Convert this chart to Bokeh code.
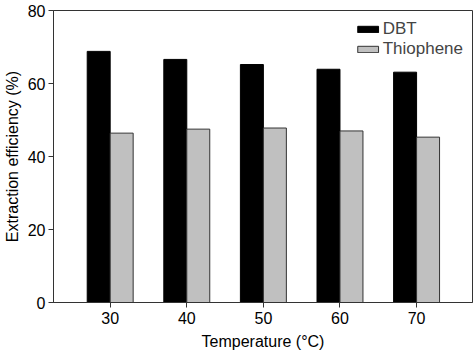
from bokeh.plotting import figure
from bokeh.models import FixedTicker, Range1d, ColumnDataSource, Legend, LegendItem
from bokeh.embed import file_html
from bokeh.resources import INLINE

temperature = [30, 40, 50, 60, 70]
dbt = [68.8, 66.6, 65.2, 63.9, 63.1]
thiophene = [46.4, 47.5, 47.8, 47.0, 45.3]
x_ticks = [30, 40, 50, 60, 70]
y_ticks = [0, 20, 40, 60, 80]

bar_w = 3.0
src = ColumnDataSource(dict(
    x_dbt=[t - bar_w / 2 for t in temperature],
    x_th=[t + bar_w / 2 for t in temperature],
    dbt=dbt, th=thiophene,
))

FONT = "Liberation Sans"

p = figure(frame_width=419, frame_height=292, output_backend="svg",
           toolbar_location=None,
           x_range=Range1d(22.6, 77.3), y_range=Range1d(0, 80),
           min_border_left=0, min_border_top=10, min_border_right=2,
           min_border_bottom=52)

r1 = p.vbar(x="x_dbt", top="dbt", width=bar_w, source=src,
            fill_color="black", line_color="black", line_width=1)
r2 = p.vbar(x="x_th", top="th", width=bar_w, source=src,
            fill_color="#c0c0c0", line_color="#333333", line_width=1)

p.xgrid.visible = False
p.ygrid.visible = False
p.outline_line_color = "#333333"
p.outline_line_width = 1
p.background_fill_color = "white"
p.border_fill_color = "white"

for ax in (p.xaxis[0], p.yaxis[0]):
    ax.major_tick_in = 0
    ax.major_tick_out = 5
    ax.minor_tick_line_color = None
    ax.axis_line_color = "#333333"
    ax.major_tick_line_color = "#333333"
    ax.major_label_text_font = FONT
    ax.major_label_text_font_size = "16px"
    ax.major_label_text_color = "black"
    ax.axis_label_text_font = FONT
    ax.axis_label_text_font_size = "16px"
    ax.axis_label_text_font_style = "normal"
    ax.axis_label_text_color = "black"

p.xaxis[0].ticker = FixedTicker(ticks=x_ticks)
p.yaxis[0].ticker = FixedTicker(ticks=y_ticks)
p.xaxis[0].axis_label = "Temperature (°C)"
p.yaxis[0].axis_label = "Extraction efficiency (%)"
p.xaxis[0].major_label_standoff = 4
p.xaxis[0].axis_label_standoff = 6
p.yaxis[0].major_label_standoff = 3
p.yaxis[0].axis_label_standoff = 4

legend = Legend(items=[LegendItem(label="DBT", renderers=[r1]),
                       LegendItem(label="Thiophene", renderers=[r2])],
                location="top_right")
legend.border_line_alpha = 0
legend.background_fill_alpha = 0
legend.glyph_width = 26
legend.glyph_height = 8
legend.label_text_font = FONT
legend.label_text_font_size = "17px"
legend.label_standoff = 2
legend.spacing = 0
legend.padding = 0
legend.margin = 9
legend.label_height = 14
p.add_layout(legend, "center")

open("out.html", "w").write(file_html(p, INLINE))
